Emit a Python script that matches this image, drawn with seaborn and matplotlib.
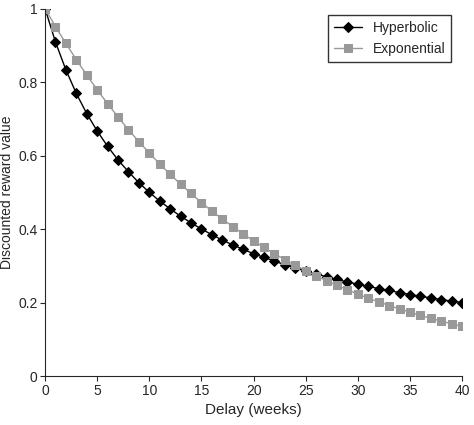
import matplotlib
matplotlib.use("Agg")
import matplotlib.pyplot as plt
import seaborn as sns
import pandas as pd

delay = list(range(41))
hyperbolic = [1.0,.909,.833,.769,.714,.667,.625,.588,.556,.526,.5,.476,.455,.435,.417,.4,.385,.370,.357,.345,.333,.323,.313,.303,.294,.286,.278,.270,.263,.256,.25,.244,.238,.233,.227,.222,.217,.213,.208,.204,.2]
exponential = [1,.951,.905,.861,.819,.779,.741,.705,.670,.638,.607,.577,.549,.522,.497,.472,.449,.427,.407,.387,.368,.350,.333,.317,.301,.287,.273,.259,.247,.235,.223,.212,.202,.192,.183,.174,.165,.157,.150,.142,.135]

sns.set_style("ticks")
plt.rcParams['font.family'] = ['Liberation Sans', 'DejaVu Sans']
df = pd.DataFrame({"d": delay, "h": hyperbolic, "e": exponential})

fig, ax = plt.subplots(figsize=(4.74, 4.25), dpi=100)
fig.subplots_adjust(left=0.095, right=0.975, top=0.98, bottom=0.115)
sns.lineplot(data=df, x="d", y="h", ax=ax, color="black", marker="D", markersize=5,
             markeredgecolor="black", linewidth=1, label="Hyperbolic")
sns.lineplot(data=df, x="d", y="e", ax=ax, color="#999999", marker="s", markersize=5.5,
             markeredgecolor="#999999", linewidth=1, label="Exponential")
ax.set_xlim(0, 40)
ax.set_ylim(0, 1)
ax.set_xticks(range(0, 41, 5))
ax.set_yticks([0, 0.2, 0.4, 0.6, 0.8, 1])
ax.set_yticklabels(["0", "0.2", "0.4", "0.6", "0.8", "1"])
ax.set_xlabel("Delay (weeks)", fontsize=11)
ax.set_ylabel("Discounted reward value", fontsize=10, labelpad=3)
ax.tick_params(labelsize=10, pad=2)
sns.despine(ax=ax)
leg = ax.legend(loc="upper right", fontsize=10, frameon=True, fancybox=False,
                edgecolor="black", bbox_to_anchor=(0.99, 1.0))
leg.get_frame().set_linewidth(1)
fig.savefig("out.png", dpi=100)
